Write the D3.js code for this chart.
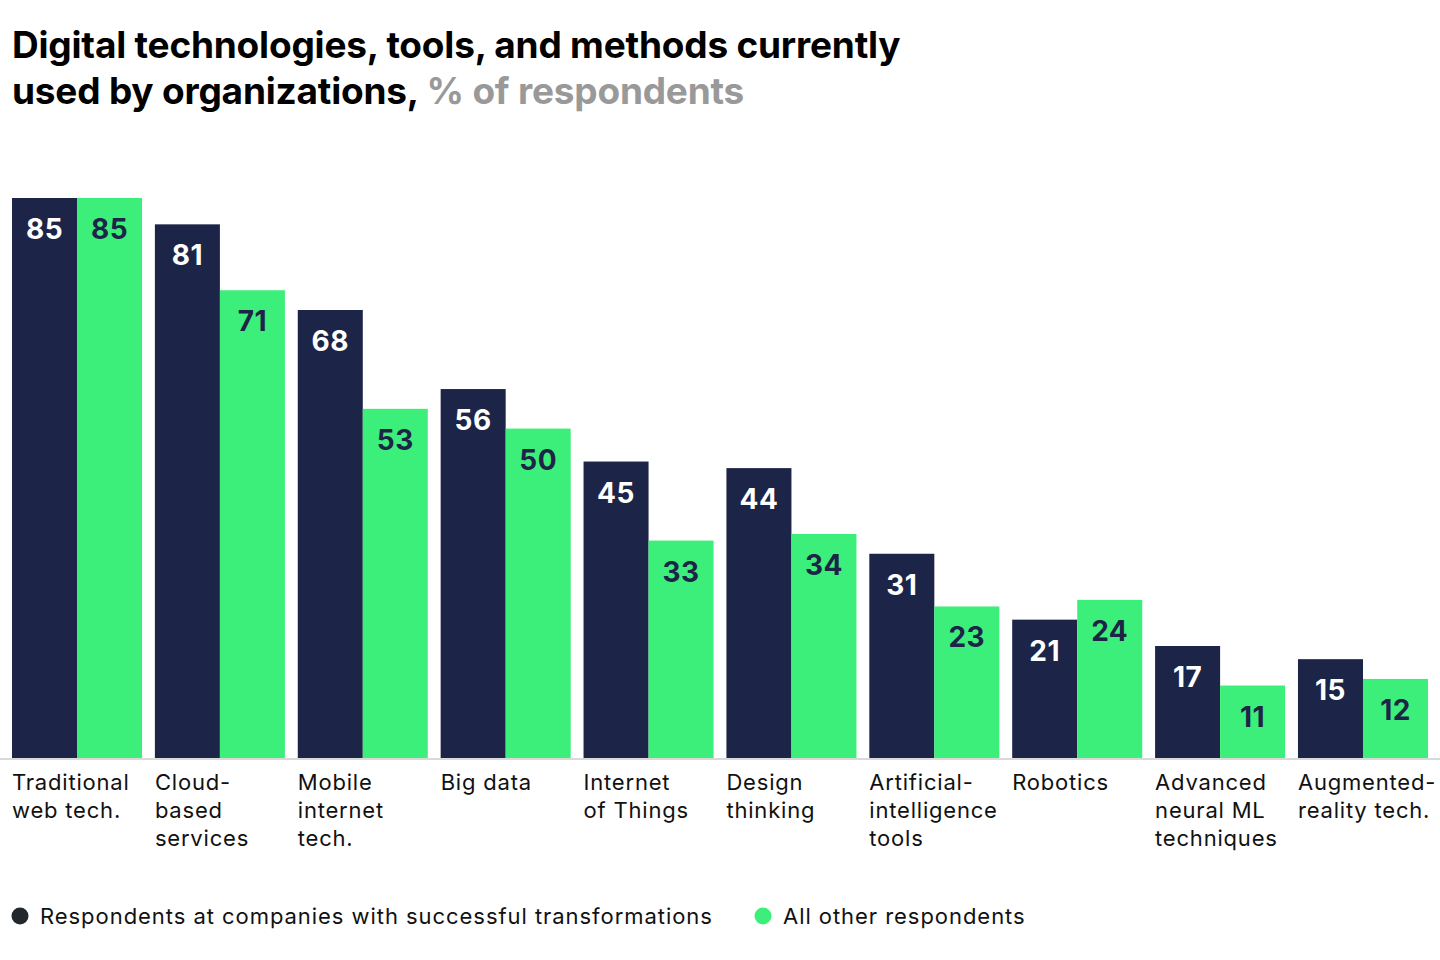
<!DOCTYPE html>
<html>
<head>
<meta charset="utf-8">
<script src="https://cdn.jsdelivr.net/npm/d3@7"></script>
<style>
  body { margin: 0; background: #fff; }
  svg { display: block; font-family: Inter, "Noto Sans", sans-serif; }
</style>
</head>
<body>
<div id="chart"></div>
<script>
// Data
const categories = [
  ["Traditional", "web tech."],
  ["Cloud-", "based", "services"],
  ["Mobile", "internet", "tech."],
  ["Big data"],
  ["Internet", "of Things"],
  ["Design", "thinking"],
  ["Artificial-", "intelligence", "tools"],
  ["Robotics"],
  ["Advanced", "neural ML", "techniques"],
  ["Augmented-", "reality tech."]
];
const successful = [85, 81, 68, 56, 45, 44, 31, 21, 17, 15];
const others = [85, 71, 53, 50, 33, 34, 23, 24, 11, 12];
const seriesNames = ["Respondents at companies with successful transformations", "All other respondents"];

const width = 1440, height = 960;
const baseline = 758;
const navy = "#1c2447", green = "#3cef7a";

const svg = d3.select("#chart").append("svg")
  .attr("width", width)
  .attr("height", height);

// Title
const title = svg.append("text")
  .attr("x", 12)
  .attr("font-size", 37)
  .attr("font-weight", 700)
  .attr("fill", "#000")
  .attr("letter-spacing", "-0.2");
title.append("tspan").attr("x", 12).attr("y", 58).text("Digital technologies, tools, and methods currently");
title.append("tspan").attr("x", 12).attr("y", 104).text("used by organizations, ");
title.append("tspan").attr("fill", "#999").text("% of respondents");

// Scales
const x0 = d3.scaleBand()
  .domain(d3.range(categories.length))
  .range([12, 1428])
  .paddingInner(0.09)
  .paddingOuter(0);

const x1 = d3.scaleBand()
  .domain([0, 1])
  .range([0, x0.bandwidth()]);

const y = d3.scaleLinear()
  .domain([0, 85])
  .range([baseline, 198]);

const rows = categories.map((c, i) => ({ i, values: [successful[i], others[i]] }));

const groups = svg.selectAll(".group")
  .data(rows)
  .enter()
  .append("g")
  .attr("class", "group")
  .attr("transform", d => `translate(${x0(d.i)},0)`);

groups.selectAll("rect")
  .data(d => d.values)
  .enter()
  .append("rect")
  .attr("x", (d, j) => x1(j))
  .attr("y", d => y(d))
  .attr("width", x1.bandwidth())
  .attr("height", d => baseline - y(d))
  .attr("fill", (d, j) => j === 0 ? navy : green);

groups.selectAll(".val")
  .data(d => d.values)
  .enter()
  .append("text")
  .attr("class", "val")
  .attr("x", (d, j) => x1(j) + x1.bandwidth() / 2)
  .attr("y", d => y(d) + 41)
  .attr("text-anchor", "middle")
  .attr("font-size", 28)
  .attr("font-weight", 700)
  .attr("letter-spacing", "0.5")
  .attr("fill", (d, j) => j === 0 ? "#fff" : navy)
  .text(d => d);

// Baseline
svg.append("line")
  .attr("x1", 0).attr("x2", width)
  .attr("y1", baseline + 1).attr("y2", baseline + 1)
  .attr("stroke", "#d9d9d9")
  .attr("stroke-width", 2);

// Category labels
groups.append("text")
  .attr("font-size", 22)
  .attr("letter-spacing", "0.8")
  .attr("fill", "#111")
  .selectAll("tspan")
  .data(d => categories[d.i])
  .enter()
  .append("tspan")
  .attr("x", 0)
  .attr("y", (d, k) => 790 + k * 28)
  .text(d => d);

// Legend
const legendX = [20, 763];
const legend = svg.selectAll(".legend")
  .data(seriesNames)
  .enter()
  .append("g")
  .attr("class", "legend")
  .attr("transform", (d, i) => `translate(${legendX[i]},916)`);

legend.append("circle")
  .attr("r", 8.5)
  .attr("fill", (d, i) => i === 0 ? "#23282d" : green);

legend.append("text")
  .attr("x", 20)
  .attr("y", 8)
  .attr("font-size", 22)
  .attr("letter-spacing", "0.95")
  .attr("fill", "#111")
  .text(d => d);
</script>
</body>
</html>
